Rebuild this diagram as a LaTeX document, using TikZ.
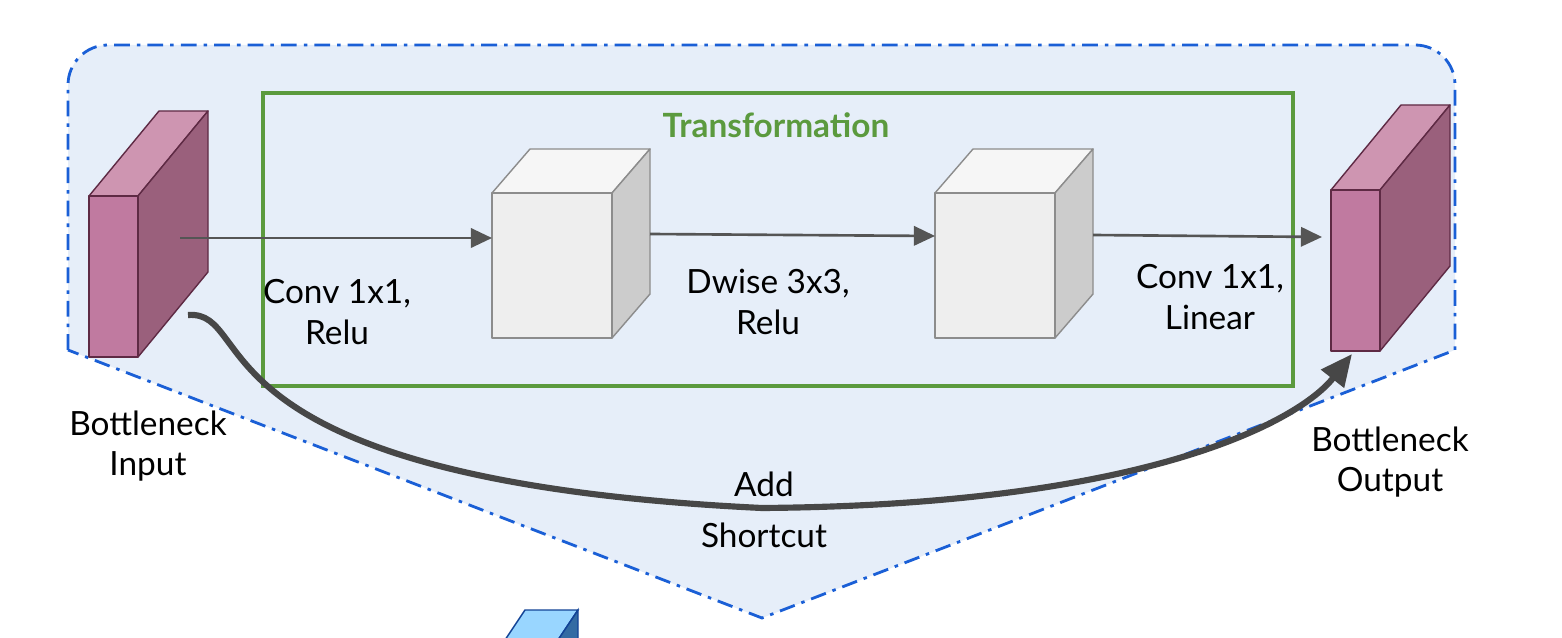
\documentclass[tikz,border=0pt]{standalone}
\usepackage{fontspec}
\setmainfont{Lato}
\usetikzlibrary{arrows.meta}
\definecolor{blockfill}{HTML}{E6EEF9}
\definecolor{blockline}{HTML}{1A5FD6}
\definecolor{transgreen}{HTML}{5B9A3E}
\definecolor{slabfront}{HTML}{C07AA0}
\definecolor{slabtop}{HTML}{CE95B1}
\definecolor{slabside}{HTML}{9A607C}
\definecolor{slabline}{HTML}{5E2A44}
\definecolor{arrowgray}{HTML}{555555}
\tikzset{
  lbl/.style={align=center, font=\fontsize{19}{23}\selectfont, inner sep=0pt},
  flow/.style={draw=arrowgray, line width=1.5pt, -{Triangle[length=12pt,width=11pt]}},
  slab/.style={draw=slabline, line width=0.8pt, line join=round},
  cubeface/.style={draw=gray!90, line width=0.8pt, line join=round}
}
% box: x0, y0 (front top left), w, h, dx, dy, front, top, side, style
\newcommand{\boxthreed}[9]{%
  \filldraw[#9, fill=#7] (#1,#2) -- ++(#5,#6) -- ++(#3,0) -- ++(-#5,-#6) -- cycle;
  \filldraw[#9, fill=#8] (#1+#3,#2) -- ++(#5,#6) -- ++(0,#4) -- ++(-#5,-#6) -- cycle;
}
\begin{document}
\begin{tikzpicture}[x=0.02cm, y=-0.02cm]
  \useasboundingbox (0,0) rectangle (1562,638);

  % outer block
  \filldraw[fill=blockfill, draw=blockline, line width=1.6pt, dash pattern=on 9pt off 4pt on 2pt off 4pt]
    (68,350) -- (68,85) arc (180:270:40) -- (1415,45) arc (270:360:40) -- (1455,350)
    -- (762,618) -- cycle;

  % blue cube at the bottom (cut off)
  \begin{scope}
    \clip (0,0) rectangle (1562,638);
    \filldraw[draw=blockline!70!black, fill=blue!40!cyan!40, line width=0.8pt] (505,640) -- (525,610) -- (578,610) -- (558,640) -- cycle;
    \filldraw[draw=blockline!70!black, fill=blue!50!cyan!55!black!80, line width=0.8pt] (558,640) -- (578,610) -- (578,645) -- cycle;
  \end{scope}

  % transformation
  \draw[transgreen, line width=2pt] (263,93) rectangle (1293,386);
  \node[lbl, text=transgreen, font=\fontsize{19}{23}\selectfont\bfseries] (title) at (776,125) {Transformation};

  % slabs
  \boxthreed{89}{196}{49}{161}{70}{-85}{slabtop}{slabside}{slab}
  \filldraw[slab, fill=slabfront] (89,196) rectangle (138,357);
  \boxthreed{1331}{190}{49}{161}{70}{-85}{slabtop}{slabside}{slab}
  \filldraw[slab, fill=slabfront] (1331,190) rectangle (1380,351);

  % cubes
  \boxthreed{492}{193}{120}{145}{38}{-44}{gray!7}{gray!40}{cubeface}
  \filldraw[cubeface, fill=gray!13] (492,193) rectangle (612,338);
  \boxthreed{935}{193}{120}{145}{38}{-44}{gray!7}{gray!40}{cubeface}
  \filldraw[cubeface, fill=gray!13] (935,193) rectangle (1055,338);

  \coordinate (inA) at (180,238);
  \coordinate (c1in) at (492,238);
  \coordinate (c1out) at (650,234);
  \coordinate (c2in) at (935,236);
  \coordinate (c2out) at (1093,235);
  \coordinate (outA) at (1322,237);
  \coordinate (scA) at (188,315);
  \coordinate (scB) at (1352,354);

  \draw[flow] (inA) -- (c1in);
  \draw[flow] (c1out) -- (c2in);
  \draw[flow] (c2out) -- (outA);
  \draw[draw=black!72, line width=3.5pt, -{Triangle[length=18pt,width=16pt]}]
    (scA) .. controls (260,310) and (180,480) .. (762,508)
    .. controls (1150,505) and (1300,420) .. (scB);

  % labels
  \node[lbl] (conv1) at (337,312) {Conv 1x1,\\Relu};
  \node[lbl] (dwise) at (768,302) {Dwise 3x3,\\Relu};
  \node[lbl] (conv2) at (1210,297) {Conv 1x1,\\Linear};
  \node[lbl] (bin) at (148,446) {Bottleneck\\Input};
  \node[lbl] (bout) at (1390,462) {Bottleneck\\Output};
  \node[lbl] (add) at (764,510) {Add\\[6pt]Shortcut};
\end{tikzpicture}
\end{document}
